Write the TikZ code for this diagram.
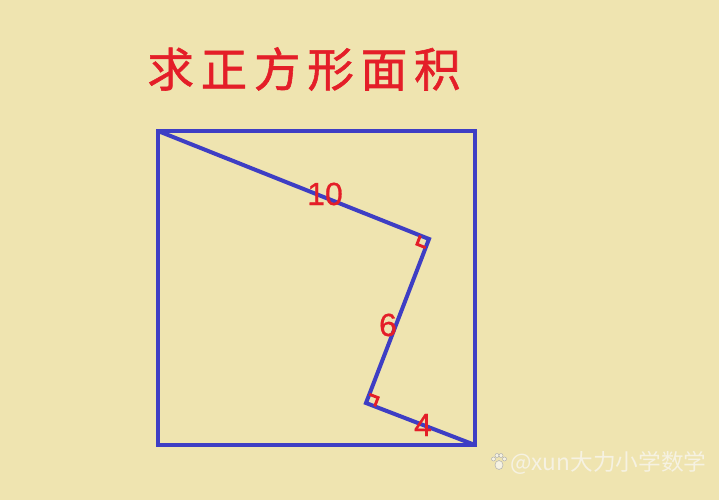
\documentclass[tikz,border=0pt]{standalone}
\usepackage{fontspec}
\setmainfont{Liberation Sans}
\newfontfamily\cjk{Noto Sans CJK SC}
\newfontfamily\cjktitle[FakeBold=1.2]{Noto Sans CJK SC}
\newfontfamily\lenfont[FakeBold=0.8]{Liberation Sans}
\usepackage{tikz}
\usetikzlibrary{calc}
\definecolor{paper}{RGB}{239,228,176}
\definecolor{edgeblue}{RGB}{62,62,196}
\definecolor{markred}{RGB}{228,30,40}
\definecolor{wmark}{RGB}{246,242,226}
\tikzset{
  edge/.style={draw=edgeblue,line width=3pt,line join=miter},
  len/.style={text=markred,font=\lenfont\fontsize{24}{24}\selectfont,inner sep=0pt},
  rightmark/.style={draw=markred,line width=2.2pt}
}
\begin{document}
\begin{tikzpicture}[x=0.75pt,y=0.75pt,yscale=-1,xscale=1]
\fill[paper] (0,0) rectangle (719,500);
\useasboundingbox (0,0) rectangle (719,500);

%Title
\node[text=markred,font=\cjktitle\fontsize{35}{35}\selectfont,inner sep=0pt] (title) at (304,69) {求\kern5pt 正\kern5pt 方\kern5pt 形\kern5pt 面\kern5pt 积};

%Square
\coordinate (sqA) at (158,131);
\coordinate (sqB) at (475,131);
\coordinate (sqC) at (475,445);
\coordinate (sqD) at (158,445);
\draw[edge] (sqA) -- (sqB) -- (sqC) -- (sqD) -- cycle;

%Broken line
\coordinate (p1) at (429,239);
\coordinate (p2) at (366,403);
\draw[edge] (sqA) -- (p1) -- (p2) -- (sqC);

%Right angles
\coordinate (r1a) at ($(p1)!7pt!(sqA)$);
\coordinate (r1b) at ($(p1)!7pt!(p2)$);
\coordinate (r2a) at ($(p2)!7pt!(p1)$);
\coordinate (r2b) at ($(p2)!7pt!(sqC)$);
\draw[rightmark] (r1a) -- ($(r1a)+(r1b)-(p1)$) -- (r1b);
\draw[rightmark] (r2a) -- ($(r2a)+(r2b)-(p2)$) -- (r2b);

%Lengths
\node[len] (l10) at (325,194) {10};
\node[len] (l6) at (388,325) {6};
\node[len] (l4) at (423,425) {4};

%Watermark
\begin{scope}[shift={(499,463)}]
  \fill[wmark,draw=gray!60,line width=0.4pt] (0,2) ellipse (4 and 4.5);
  \foreach \a/\r in {-5.5/-4,-2/-7.5,2/-7.5,5.5/-4}
    \fill[wmark,draw=gray!60,line width=0.4pt] (\a,\r) circle (2);
\end{scope}
\node[anchor=west,text=wmark,font=\cjk\fontsize{17}{17}\selectfont,inner sep=0pt] (wm) at (510,463) {@xun大力小学数学};
\end{tikzpicture}
\end{document}
